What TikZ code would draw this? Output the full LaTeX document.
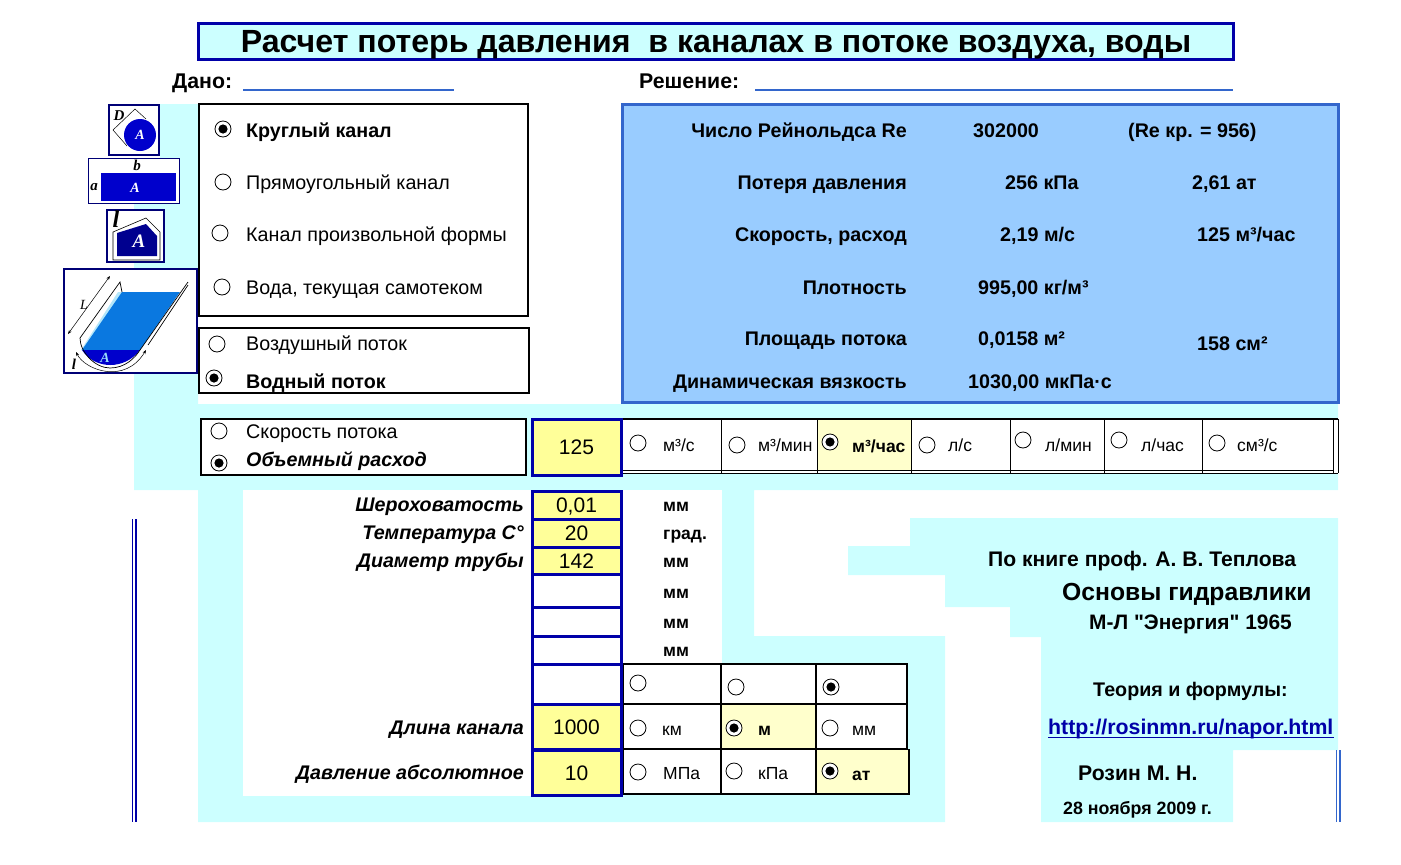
\documentclass[tikz,border=0pt]{standalone}
\usepackage{fontspec}
\setmainfont{Liberation Sans}[Ligatures=TeXOff]
\newfontfamily\thumbfont{Liberation Serif}
\usetikzlibrary{
  arrows.meta,
  positioning,
}
\definecolor{bgcyan}{HTML}{CCFFFF}
\definecolor{cellyellow}{HTML}{FFFF99}
\definecolor{palecell}{HTML}{FFFFCC}
\definecolor{panelblue}{HTML}{99CCFF}
\definecolor{panelline}{HTML}{3366CC}
\definecolor{boxnavy}{HTML}{0000A8}
\definecolor{thumbblue}{HTML}{0000CC}
\definecolor{sheetblue}{HTML}{0A78E0}
\tikzset{
  lbl/.style={inner sep=0pt, text height=14pt, text depth=0pt, font=\fontsize{19.7}{22}\selectfont},
  lblb/.style={lbl, font=\fontsize{19.7}{22}\bfseries\selectfont},
  lblbi/.style={lbl, font=\fontsize{19.7}{22}\bfseries\itshape\selectfont},
  head/.style={lbl, text height=15pt, font=\fontsize{21.3}{24}\bfseries\selectfont},
  small/.style={inner sep=0pt, text height=12.5pt, text depth=0pt, font=\fontsize{17.5}{20}\selectfont},
  smallb/.style={small, font=\fontsize{17.5}{20}\bfseries\selectfont},
  inbox/.style={draw=boxnavy, line width=3pt, fill=cellyellow, inner sep=0pt, minimum width=89pt, text height=15pt, text depth=0pt, font=\fontsize{21}{24}\selectfont},
  radiobtn/.style={draw, circle, fill=white, line width=0.8pt, minimum size=16pt, inner sep=0pt},
  radiosel/.style={radiobtn, path picture={\fill [black] (path picture bounding box.center) circle (4.6pt);}},
  frm/.style={draw, line width=1.8pt, outer sep=0pt, inner sep=0pt, fill=white, anchor=north west},
  thumb/.style={draw=boxnavy!70!black, line width=2pt, fill=white},
  thumba/.style={text=white, inner sep=0pt, font=\thumbfont\fontsize{14}{14}\bfseries\itshape\selectfont},
  thumbl/.style={inner sep=0pt, font=\thumbfont\fontsize{15}{15}\bfseries\itshape\selectfont},
  dline/.style={{Stealth[length=4pt]}-{Stealth[length=4pt]}, line width=0.5pt},
}

\begin{document}
\begin{tikzpicture}[x=1pt, y=-1pt]
  \useasboundingbox (0,0) rectangle (1401,865);
  % cyan background
  \fill [bgcyan] (160,104) -- (198,104) -- (198,404) -- (1338,404) -- (1338,490) -- (754,490)
    -- (754,636) -- (945,636) -- (945,822) -- (198,822) -- (198,490) -- (134,490) -- (134,204) -- (160,204) -- cycle;
  \fill [white] (243,490) rectangle (722,664);
  \fill [white] (243,664) rectangle (531,796);
  \fill [bgcyan] (910,518) -- (1338,518) -- (1338,750) -- (1233,750) -- (1233,822) -- (1041,822)
    -- (1041,637) -- (1010,637) -- (1010,607) -- (945,607) -- (945,575) -- (848,575) -- (848,546) -- (910,546) -- cycle;
  % side bars
  \draw [boxnavy, line width=1.3pt] (132.5,519) -- (132.5,822);
  \draw [boxnavy, line width=1.3pt] (136,519) -- (136,822);
  \draw [panelline, line width=1.3pt] (1336.5,750) -- (1336.5,822);
  \draw [panelline, line width=1.3pt] (1340,750) -- (1340,822);

  % title
  \node [draw=boxnavy, line width=3pt, fill=bgcyan, minimum width=1035pt, minimum height=36pt, inner sep=0pt,
    text height=23pt, text depth=0pt, font=\fontsize{32.1}{36}\bfseries\selectfont] (title) at (716,41) {Расчет потерь давления\ \ в каналах в потоке воздуха, воды};
  \node [head, anchor=west] (dano) at (172,81) {Дано:};
  \node [head, anchor=west] (resh) at (639,81) {Решение:};
  \coordinate (danoA) at (243,90);
  \coordinate (danoB) at (454,90);
  \coordinate (reshA) at (755,90);
  \coordinate (reshB) at (1233,90);
  \draw [panelline, line width=1.2pt] (danoA) -- (danoB);
  \draw [panelline, line width=1.2pt] (reshA) -- (reshB);

  % thumbnails
  \draw [thumb] (109,105) rectangle (159,155);
  \fill [thumbblue] (140,135) circle (16);
  \node [thumba] (aRound) at (140,135) {A};
  \node [thumbl] (dRound) at (119,116) {D};
  \draw [line width=0.5pt] (113,130) -- (135,109) -- (146,119);
  \draw [line width=0.5pt] (113,130) -- (127,146);
  \draw [thumb, line width=1pt] (88,158) rectangle (179,203);
  \fill [thumbblue] (101,173) rectangle (176,201);
  \node [thumba] (aRect) at (135,188) {A};
  \node [thumbl] (aSide) at (94,187) {a};
  \node [thumbl] (bSide) at (137,165) {b};
  \draw [thumb] (107,210) rectangle (164,262);
  \draw [line width=0.6pt] (113,257) -- (113,232) -- (146,218) -- (160,232) -- (160,260) -- (113,260) -- cycle;
  \fill [boxnavy!85!black] (117,233) -- (146,224) -- (157,236) -- (157,256) -- (117,256) -- cycle;
  \node [thumba, font=\thumbfont\fontsize{19}{19}\bfseries\itshape\selectfont] (aFree) at (139,241) {A};
  \node [thumbl, font=\thumbfont\fontsize{24}{24}\bfseries\itshape\selectfont] (lFree) at (116,219) {l};
  \draw [thumb] (64,269) rectangle (197,373);
  \fill [cyan!30!white] (118,292) -- (122,292) -- (86,350) -- (81,350) -- cycle;
  \fill [sheetblue] (122,292) -- (180,292) -- (140,350) -- (82,350) -- cycle;
  \fill [thumbblue] (82,350) .. controls (95,370) and (125,370) .. (140,350) -- cycle;
  \draw [line width=0.7pt] (80,338) -- (120,282) -- (122,292);
  \draw [line width=0.7pt] (80,338) .. controls (80,352) and (95,368) .. (110,368) .. controls (125,368) and (135,358) .. (140,350) -- (188,282);
  \draw [line width=0.7pt] (148,345) -- (188,285);
  \draw [dline] (68,334) -- (110,276);
  \draw [dline] (76,352) .. controls (85,370) and (125,385) .. (146,350);
  \node [thumbl, font=\thumbfont\fontsize{14}{14}\itshape\selectfont] (lLong) at (84,305) {L};
  \node [thumbl] (lWet) at (74,364) {l};
  \node [thumba, text=cyan!40!white] (aWet) at (105,358) {A};

  % channel type
  \node [frm, minimum width=329pt, minimum height=212pt] (kindBox) at (199,104) {};
  \node [lblb, anchor=west] (kind1) at (246,130) {Круглый канал};
  \node [lbl, anchor=west] (kind2) at (246,182) {Прямоугольный канал};
  \node [lbl, anchor=west] (kind3) at (246,234) {Канал произвольной формы};
  \node [lbl, anchor=west] (kind4) at (246,287) {Вода, текущая самотеком};
  \node [radiosel] (rKind1) at (223,129) {};
  \node [radiobtn] (rKind2) at (223,182) {};
  \node [radiobtn] (rKind3) at (220,233) {};
  \node [radiobtn] (rKind4) at (222,287) {};

  % medium
  \node [frm, minimum width=330pt, minimum height=65pt] (flowBox) at (199,328) {};
  \node [lbl, anchor=west] (flow1) at (246,343) {Воздушный поток};
  \node [lblb, anchor=west] (flow2) at (246,381) {Водный поток};
  \node [radiobtn] (rFlow1) at (217,344) {};
  \node [radiosel] (rFlow2) at (214,378) {};

  % results
  \node [draw=panelline, line width=3pt, fill=panelblue, outer sep=0pt, anchor=north west, minimum width=716pt, minimum height=298pt, inner sep=0pt] (panel) at (622,104) {};
  \node [lblb, anchor=east] (res1) at (907,130) {Число Рейнольдса Re};
  \node [lblb, anchor=east] (res2) at (907,182) {Потеря давления};
  \node [lblb, anchor=east] (res3) at (907,234) {Скорость, расход};
  \node [lblb, anchor=east] (res4) at (907,287) {Плотность};
  \node [lblb, anchor=east] (res5) at (907,338) {Площадь потока};
  \node [lblb, anchor=east] (res6) at (907,381) {Динамическая вязкость};
  \node [lblb, anchor=west] (val1) at (973,130) {302000};
  \node [lblb, anchor=west] (val2) at (1005,182) {256 кПа};
  \node [lblb, anchor=west] (val3) at (1000,234) {2,19 м/с};
  \node [lblb, anchor=west] (val4) at (978,287) {995,00 кг/м³};
  \node [lblb, anchor=west] (val5) at (978,338) {0,0158 м²};
  \node [lblb, anchor=west] (val6) at (968,381) {1030,00 мкПа·с};
  \node [lblb, anchor=west] (alt1) at (1128,130) {(Re кр. = 956)};
  \node [lblb, anchor=west] (alt2) at (1192,182) {2,61 ат};
  \node [lblb, anchor=west] (alt3) at (1197,234) {125 м³/час};
  \node [lblb, anchor=west] (alt5) at (1197,343) {158 см²};

  % flow box and units
  \node [frm, minimum width=325pt, minimum height=56pt] (rateBox) at (201,419) {};
  \node [lbl, anchor=west] (rate1) at (246,431) {Скорость потока};
  \node [lblbi, anchor=west] (rate2) at (246,459) {Объемный расход};
  \node [radiobtn] (rRate1) at (219,431) {};
  \node [radiosel] (rRate2) at (219,463) {};

  \fill [white] (622,419) rectangle (1338,473);
  \fill [palecell] (817,419) rectangle (911,470);
  \draw [line width=1.8pt] (622,419) -- (1338,419);
  \draw [line width=1pt] (622,470) -- (1333,470);
  \draw [line width=1pt] (622,473) -- (1338,473);
  \draw [line width=1pt] (1333,419) -- (1333,473);
  \draw [line width=1pt] (1338,419) -- (1338,473);
  \foreach \x in {721,817,911,1010,1104,1202}
    \draw [line width=1pt] (\x,419) -- (\x,473);
  \foreach \x/\y/\n in {638/443/1, 737/445/2, 927/445/4, 1023/440/5, 1119/440/6, 1217/443/7}
    \node [radiobtn] (rUnit\n) at (\x,\y) {};
  \node [radiosel] (rUnit3) at (830,442) {};
  \node [small, anchor=west] (unit1) at (663,445) {м³/с};
  \node [small, anchor=west] (unit2) at (758,445) {м³/мин};
  \node [smallb, anchor=west] (unit3) at (852,446) {м³/час};
  \node [small, anchor=west] (unit4) at (948,445) {л/с};
  \node [small, anchor=west] (unit5) at (1045,445) {л/мин};
  \node [small, anchor=west] (unit6) at (1141,445) {л/час};
  \node [small, anchor=west] (unit7) at (1237,445) {см³/с};

  % parameter labels
  \node [lblbi, anchor=east] (par1) at (524,504) {Шероховатость};
  \node [lblbi, anchor=east] (par2) at (524,532) {Температура С°};
  \node [lblbi, anchor=east] (par3) at (524,560) {Диаметр трубы};
  \node [lblbi, anchor=east] (par4) at (524,727) {Длина канала};
  \node [lblbi, anchor=east] (par5) at (524,772) {Давление абсолютное};

  \node [smallb, anchor=center] (dim1) at (676,505) {мм};
  \node [smallb, anchor=west] (dim2) at (663,533) {град.};
  \node [smallb, anchor=center] (dim3) at (676,561) {мм};
  \node [smallb, anchor=center] (dim4) at (676,592) {мм};
  \node [smallb, anchor=center] (dim5) at (676,622) {мм};
  \node [smallb, anchor=center] (dim6) at (676,650) {мм};

  % length and pressure units
  \fill [white] (623,664) rectangle (908,795);
  \fill [palecell] (721,705) rectangle (816,749);
  \fill [palecell] (816,750) rectangle (908,794);
  \draw [line width=1.4pt] (623,664) rectangle (907,749);
  \draw [line width=1.4pt] (623,704) -- (907,704);
  \draw [line width=1.4pt] (623,749.5) rectangle (909,794);
  \foreach \x in {721,816}
    \draw [line width=1.2pt] (\x,664) -- (\x,795);
  \node [radiobtn] (rLen1) at (638,683) {};
  \node [radiobtn] (rLen2) at (736,687) {};
  \node [radiosel] (rLen3) at (831,687) {};
  \node [radiobtn] (rLen4) at (638,728) {};
  \node [radiosel] (rLen5) at (734,728) {};
  \node [radiobtn] (rLen6) at (830,728) {};
  \node [radiobtn] (rPrs1) at (638,772) {};
  \node [radiobtn] (rPrs2) at (734,771) {};
  \node [radiosel] (rPrs3) at (830,771) {};
  \node [small, anchor=west] (km) at (662,729) {км};
  \node [smallb, anchor=west] (met) at (758,729) {м};
  \node [small, anchor=west] (mil) at (852,729) {мм};
  \node [small, anchor=west] (mpa) at (663,773) {МПа};
  \node [small, anchor=west] (kpa) at (758,773) {кПа};
  \node [smallb, anchor=west] (atm) at (852,774) {ат};

  % input column
  \node [inbox, minimum height=56pt] (in125) at (576.5,447) {125};
  \node [inbox, minimum height=28pt] (in001) at (576.5,505) {0,01};
  \node [inbox, minimum height=28pt] (in20) at (576.5,533) {20};
  \node [inbox, minimum height=28pt] (in142) at (576.5,561) {142};
  \node [inbox, fill=white, minimum height=33pt] (inE1) at (576.5,591) {};
  \node [inbox, fill=white, minimum height=29pt] (inE2) at (576.5,622) {};
  \node [inbox, fill=white, minimum height=28pt] (inE3) at (576.5,650) {};
  \node [inbox, fill=white, minimum height=41pt] (inE4) at (576.5,685) {};
  \node [inbox, minimum height=45pt] (in1000) at (576.5,727) {1000};
  \node [inbox, minimum height=45pt] (in10) at (576.5,773) {10};

  % source
  \node [head, font=\fontsize{21.1}{24}\bfseries\selectfont, anchor=west] (src1) at (988,559) {По книге проф. А. В. Теплова};
  \node [head, text height=18pt, font=\fontsize{24.7}{28}\bfseries\selectfont, anchor=west] (src2) at (1062,591) {Основы гидравлики};
  \node [head, font=\fontsize{20.9}{24}\bfseries\selectfont, anchor=west] (src3) at (1089,622) {М-Л "Энергия" 1965};
  \node [lblb, anchor=west] (src4) at (1093,689) {Теория и формулы:};
  \node [head, text=boxnavy, anchor=west] (link) at (1048,727) {http://rosinmn.ru/napor.html};
  \draw [boxnavy, line width=1.3pt] ([yshift=-2.5pt]link.south west) -- ([yshift=-2.5pt]link.south east);
  \node [head, font=\fontsize{21.2}{24}\bfseries\selectfont, anchor=west] (src5) at (1078,773) {Розин М. Н.};
  \node [smallb, font=\fontsize{17.8}{20}\bfseries\selectfont, anchor=west] (src6) at (1063,808) {28 ноября 2009 г.};
\end{tikzpicture}
\end{document}
